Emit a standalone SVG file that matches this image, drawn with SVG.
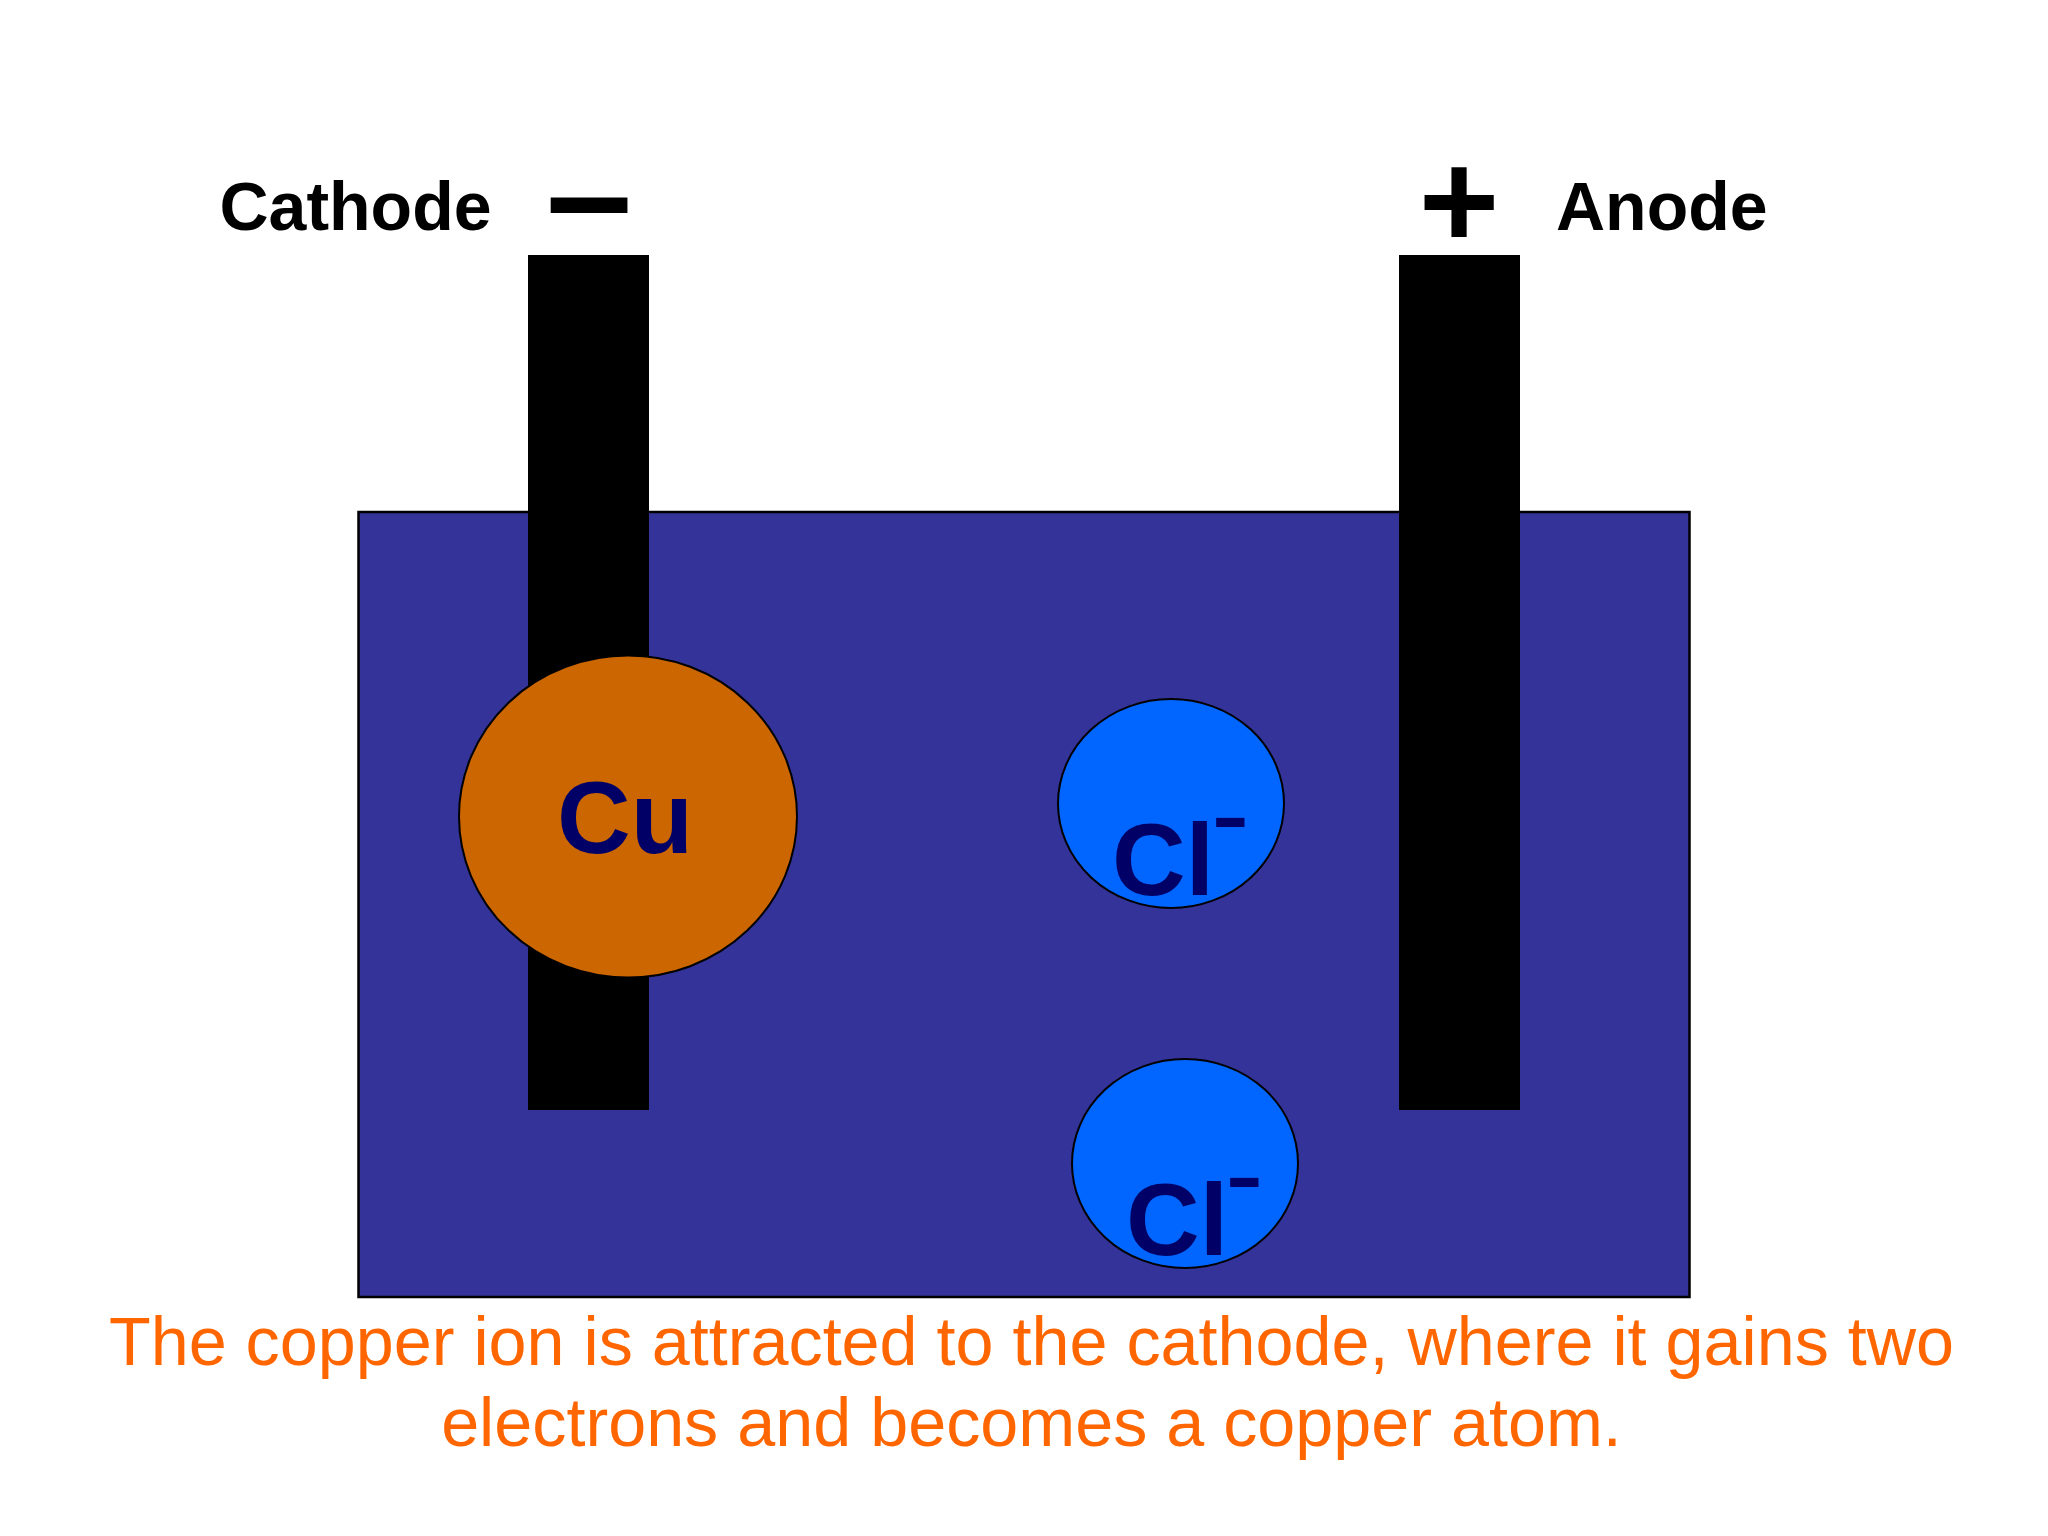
<svg xmlns="http://www.w3.org/2000/svg" width="2048" height="1536" viewBox="0 0 2048 1536">
<style>
text{font-family:"Liberation Sans",Arial,sans-serif}
.b{font-weight:700}
.lbl{font-size:68px;fill:#000}
.sign{fill:#000;text-anchor:middle}
.el{fill:#000}
.ion{font-size:102px;fill:#000066}
.sup{font-size:116px;fill:#000066}
.cl{fill:#0066ff;stroke:#000;stroke-width:2}
.cap{font-size:68.300px;fill:#ff6600;text-anchor:middle}
</style>
<rect width="2048" height="1536" fill="#fff"/>
<g id="tank"><rect x="358.500" y="512" width="1331" height="785" fill="#333399" stroke="#000" stroke-width="2.500"/></g>
<g id="cathode">
<rect class="el" x="528" y="255" width="121" height="855"/>
<text class="b lbl" x="219.500" y="230">Cathode</text>
<text class="b sign" x="589" y="246.500" font-size="155">–</text>
</g>
<g id="anode">
<rect class="el" x="1399" y="255" width="121" height="855"/>
<text class="b lbl" x="1556" y="230">Anode</text>
<text class="b sign" x="1459" y="248" font-size="138">+</text>
</g>
<g id="cu">
<ellipse cx="628" cy="816.500" rx="169" ry="161" fill="#cc6600" stroke="#000" stroke-width="2"/>
<text class="b ion" x="625" y="853" text-anchor="middle">Cu</text>
</g>
<g id="cl1">
<ellipse class="cl" cx="1171" cy="803.500" rx="113" ry="104.500"/>
<text class="b ion" x="1112" y="895">Cl</text>
<text class="sup" x="1211" y="854">-</text>
</g>
<g id="cl2">
<ellipse class="cl" cx="1185" cy="1163.500" rx="113" ry="104.500"/>
<text class="b ion" x="1126" y="1255">Cl</text>
<text class="sup" x="1225" y="1214">-</text>
</g>
<g id="caption">
<text class="cap" x="1031.500" y="1365">The copper ion is attracted to the cathode, where it gains two</text>
<text class="cap" x="1031.500" y="1446">electrons and becomes a copper atom.</text>
</g>
<g id="connectors"/>
</svg>
